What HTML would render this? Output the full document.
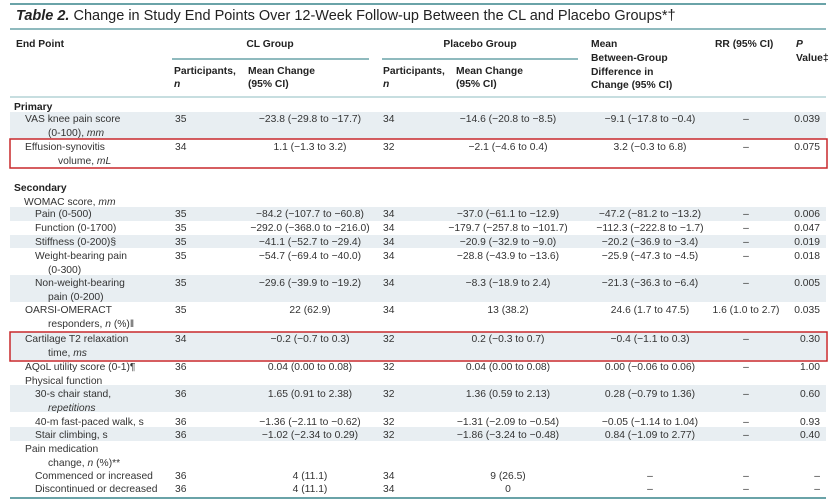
<!DOCTYPE html>
<html><head><meta charset="utf-8"><style>
html,body{margin:0;padding:0;background:#fff;}
svg{display:block;font-family:"Liberation Sans",sans-serif;}
.b{font-size:10.3px;fill:#333;}
.h{font-size:10.3px;font-weight:bold;fill:#222;}
</style></head><body>
<svg id="tbl" width="832" height="500" viewBox="0 0 832 500" xmlns="http://www.w3.org/2000/svg">
<rect x="0" y="0" width="832" height="500" fill="#fff"/>
<line x1="10" y1="4" x2="826" y2="4" stroke="#6aa3a8" stroke-width="2"/>
<text x="16" y="20" font-size="14.5" fill="#222"><tspan font-weight="bold" font-style="italic">Table 2.</tspan> Change in Study End Points Over 12-Week Follow-up Between the CL and Placebo Groups*†</text>
<line x1="10" y1="29" x2="826" y2="29" stroke="#6aa3a8" stroke-width="1.5"/>
<g>
<text class="h" x="16" y="47">End Point</text>
<text class="h" x="270" y="47" text-anchor="middle">CL Group</text>
<text class="h" x="480" y="47" text-anchor="middle">Placebo Group</text>
<line x1="172" y1="59" x2="369" y2="59" stroke="#6aa3a8" stroke-width="1.5"/>
<line x1="382" y1="59" x2="578" y2="59" stroke="#6aa3a8" stroke-width="1.5"/>
<text class="h" x="174" y="74">Participants,</text>
<text class="h" x="174" y="87" font-style="italic">n</text>
<text class="h" x="248" y="74">Mean Change</text>
<text class="h" x="248" y="87">(95% CI)</text>
<text class="h" x="383" y="74">Participants,</text>
<text class="h" x="383" y="87" font-style="italic">n</text>
<text class="h" x="456" y="74">Mean Change</text>
<text class="h" x="456" y="87">(95% CI)</text>
<text class="h" x="591" y="47">Mean</text>
<text class="h" x="591" y="61">Between-Group</text>
<text class="h" x="591" y="75">Difference in</text>
<text class="h" x="591" y="88">Change (95% CI)</text>
<text class="h" x="715" y="47">RR (95% CI)</text>
<text class="h" x="796" y="47" font-style="italic">P</text>
<text class="h" x="796" y="61">Value‡</text>
</g>
<line x1="10" y1="97" x2="826" y2="97" stroke="#8fbcc0" stroke-width="1"/>
<g id="body"></g>
<line x1="10" y1="498" x2="826" y2="498" stroke="#6aa3a8" stroke-width="2"/>
</svg>
<script>
const shades = [[112,139],[207,221],[235,248],[275,302],[332,360],[385,412],[427,441]];
const boxes = [[139,168],[332,361]];
const I = s => '<tspan font-style="italic">'+s+'</tspan>';
const rows = [
 ['<tspan font-weight="bold" fill="#222">Primary</tspan>',14,106],
 ['VAS knee pain score',25,118,'(0-100), '+I('mm'),48,'35','−23.8 (−29.8 to −17.7)','34','−14.6 (−20.8 to −8.5)','−9.1 (−17.8 to −0.4)','–','0.039'],
 ['Effusion-synovitis',25,146,'volume, '+I('mL'),58,'34','1.1 (−1.3 to 3.2)','32','−2.1 (−4.6 to 0.4)','3.2 (−0.3 to 6.8)','–','0.075'],
 ['<tspan font-weight="bold" fill="#222">Secondary</tspan>',14,187],
 ['WOMAC score, '+I('mm'),24,201],
 ['Pain (0-500)',35,213,'',0,'35','−84.2 (−107.7 to −60.8)','34','−37.0 (−61.1 to −12.9)','−47.2 (−81.2 to −13.2)','–','0.006'],
 ['Function (0-1700)',35,227,'',0,'35','−292.0 (−368.0 to −216.0)','34','−179.7 (−257.8 to −101.7)','−112.3 (−222.8 to −1.7)','–','0.047'],
 ['Stiffness (0-200)§',35,241,'',0,'35','−41.1 (−52.7 to −29.4)','34','−20.9 (−32.9 to −9.0)','−20.2 (−36.9 to −3.4)','–','0.019'],
 ['Weight-bearing pain',35,255,'(0-300)',48,'35','−54.7 (−69.4 to −40.0)','34','−28.8 (−43.9 to −13.6)','−25.9 (−47.3 to −4.5)','–','0.018'],
 ['Non-weight-bearing',35,282,'pain (0-200)',48,'35','−29.6 (−39.9 to −19.2)','34','−8.3 (−18.9 to 2.4)','−21.3 (−36.3 to −6.4)','–','0.005'],
 ['OARSI-OMERACT',25,309,'responders, '+I('n')+' (%)‖',48,'35','22 (62.9)','34','13 (38.2)','24.6 (1.7 to 47.5)','1.6 (1.0 to 2.7)','0.035'],
 ['Cartilage T2 relaxation',25,338,'time, '+I('ms'),48,'34','−0.2 (−0.7 to 0.3)','32','0.2 (−0.3 to 0.7)','−0.4 (−1.1 to 0.3)','–','0.30'],
 ['AQoL utility score (0-1)¶',25,366,'',0,'36','0.04 (0.00 to 0.08)','32','0.04 (0.00 to 0.08)','0.00 (−0.06 to 0.06)','–','1.00'],
 ['Physical function',25,380],
 ['30-s chair stand,',35,393,I('repetitions'),48,'36','1.65 (0.91 to 2.38)','32','1.36 (0.59 to 2.13)','0.28 (−0.79 to 1.36)','–','0.60'],
 ['40-m fast-paced walk, s',35,421,'',0,'36','−1.36 (−2.11 to −0.62)','32','−1.31 (−2.09 to −0.54)','−0.05 (−1.14 to 1.04)','–','0.93'],
 ['Stair climbing, s',35,434,'',0,'36','−1.02 (−2.34 to 0.29)','32','−1.86 (−3.24 to −0.48)','0.84 (−1.09 to 2.77)','–','0.40'],
 ['Pain medication',25,448,'change, '+I('n')+' (%)**',48],
 ['Commenced or increased',35,475,'',0,'36','4 (11.1)','34','9 (26.5)','–','–','–'],
 ['Discontinued or decreased',35,488,'',0,'36','4 (11.1)','34','0','–','–','–']
];
const colX = [175,310,383,508,650,746,820];
const anchors = ['start','middle','start','middle','middle','middle','end'];
const colNames = ['cl-participants','cl-mean-change','placebo-participants','placebo-mean-change','between-group-difference','rr-ci','p-value'];
const NS='http://www.w3.org/2000/svg';
const body=document.getElementById('body');
shades.forEach(s=>{
 const r=document.createElementNS(NS,'rect');
 
 
 r.setAttribute('x',10);r.setAttribute('y',s[0]);r.setAttribute('width',816);r.setAttribute('height',s[1]-s[0]);
 r.setAttribute('fill','#e8eef2');
 body.appendChild(r);
});
rows.forEach(row=>{
 const g=document.createElementNS(NS,'g');
 
 
 const t=document.createElementNS(NS,'text');
 
 
 t.setAttribute('class','b');t.setAttribute('x',row[1]);t.setAttribute('y',row[2]+4);
 t.innerHTML=row[0];g.appendChild(t);
 if(row[3]){
  const t2=document.createElementNS(NS,'text');
  
  
  t2.setAttribute('class','b');t2.setAttribute('x',row[4]);t2.setAttribute('y',row[2]+18);
  t2.innerHTML=row[3];g.appendChild(t2);
 }
 for(let c=0;c<7;c++){
  const v=row[5+c]; if(v===undefined) continue;
  const tc=document.createElementNS(NS,'text');
  
  
  tc.setAttribute('class','b');tc.setAttribute('x',colX[c]);tc.setAttribute('y',row[2]+4);
  tc.setAttribute('text-anchor',anchors[c]);
  tc.textContent=v;g.appendChild(tc);
 }
 body.appendChild(g);
});
boxes.forEach(b=>{
 const r=document.createElementNS(NS,'rect');
 
 
 r.setAttribute('x',10);r.setAttribute('y',b[0]);r.setAttribute('width',817);r.setAttribute('height',b[1]-b[0]);
 r.setAttribute('fill','none');r.setAttribute('stroke','#c8282c');r.setAttribute('stroke-width','1.5');
 body.appendChild(r);
});
</script>
</body></html>
